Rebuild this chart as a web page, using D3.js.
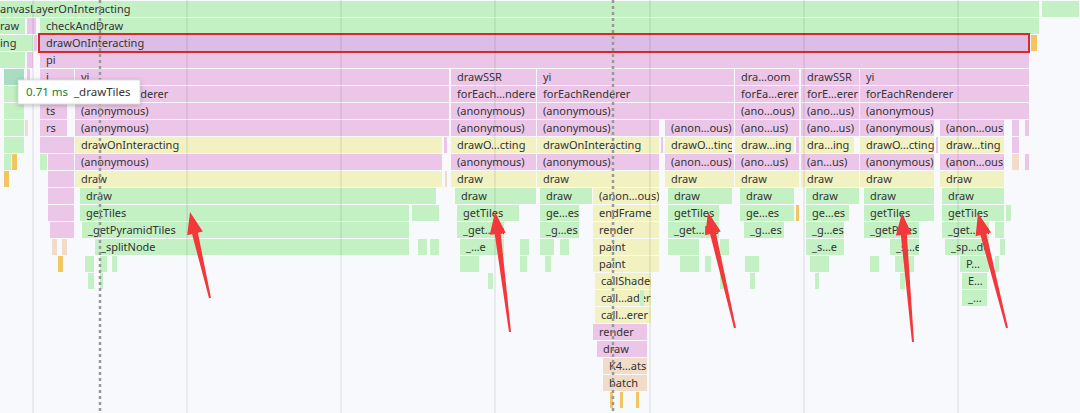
<!DOCTYPE html>
<html><head><meta charset="utf-8">
<script src="https://cdn.jsdelivr.net/npm/d3@7"></script>
<style>body{margin:0;background:#f7f9fc}svg{display:block}text{font-family:"Noto Sans",sans-serif;font-size:11px;fill:#333}</style>
</head><body><svg id="chart" width="1080" height="413"></svg>
<script>
// flame frames: depth, start, end, name, kind  (g green, p pink, y yellow, s selected, o orange, k peach, t teal)
var topFrames = [
  [0,-6,1040,"anvasLayerOnInteracting","g"],[0,1042,1080,"","g"],
  [1,-6,26,"raw","g"],[1,27,37,"","p"],[1,40,1040,"checkAndDraw","g"],
  [2,-6,34,"ing","g"],[2,34,38,"","p"],[2,40,1030,"drawOnInteracting","s"],[2,1031,1038,"","o"],
  [3,0,26,"","g"],[3,27,34,"","p"],[3,40,1030,"pi","p"],
  [4,4,25,"","t"],[4,27,31,"","p"],[4,40,75,"i","p"],[4,75,450,"yi","p"],[4,451,537,"drawSSR","p"],[4,537,735,"yi","p"],[4,735,800,"dra…oom","p"],[4,801,860,"drawSSR","p"],[4,860,1030,"yi","p"],
  [5,4,25,"","g"],[5,40,75,"","p"],[5,75,450,"forEachRenderer","p"],[5,451,537,"forEach…nderer","p"],[5,537,735,"forEachRenderer","p"],[5,735,800,"forEa…erer","p"],[5,801,860,"forE…erer","p"],[5,860,1030,"forEachRenderer","p"],
  [6,4,25,"","g"],[6,40,68,"ts","p"],[6,75,450,"(anonymous)","p"],[6,451,537,"(anonymous)","p"],[6,537,735,"(anonymous)","p"],[6,735,800,"(ano…ous)","p"],[6,801,860,"(ano…us)","p"],[6,860,1030,"(anonymous)","p"],
  [7,4,25,"","g"],[7,25,29,"","k"],[7,40,68,"rs","p"],[7,75,450,"(anonymous)","p"],[7,451,537,"(anonymous)","p"],[7,537,660,"(anonymous)","p"],[7,665,735,"(anon…ous)","p"],[7,735,800,"(ano…us)","p"],[7,801,860,"(ano…us)","p"],[7,860,935,"(anonymous)","p"],[7,940,1005,"(anon…ous)","p"],[7,1012,1020,"","p"],[7,1025,1030,"","p"],
  [8,4,25,"","g"],[8,40,75,"","p"],[8,75,443,"drawOnInteracting","y"],[8,444,448,"","p"],[8,451,537,"drawO…cting","y"],[8,537,660,"drawOnInteracting","y"],[8,661,664,"","p"],[8,665,733,"drawO…ting","y"],[8,735,795,"draw…ing","y"],[8,796,800,"","p"],[8,801,855,"dra…ing","y"],[8,860,935,"drawO…cting","y"],[8,936,939,"","p"],[8,940,1005,"draw…ting","y"],[8,1012,1020,"","p"],
  [9,4,12,"","g"],[9,12,18,"","o"],[9,40,48,"","g"],[9,48,75,"","p"],[9,75,443,"(anonymous)","p"],[9,451,537,"(anonymous)","p"],[9,537,660,"(anonymous)","p"],[9,665,735,"(anon…ous)","p"],[9,735,800,"(ano…us)","p"],[9,801,860,"(an…us)","p"],[9,860,935,"(anonymous)","p"],[9,940,1005,"(anon…ous)","p"],[9,1012,1020,"","k"],[9,1025,1030,"","p"],
  [10,4,10,"","o"],[10,48,75,"","p"],[10,75,443,"draw","y"],[10,445,448,"","k"],[10,451,537,"draw","y"],[10,537,660,"draw","y"],[10,665,735,"draw","y"],[10,735,800,"draw","y"],[10,801,860,"draw","y"],[10,860,935,"draw","y"],[10,940,1005,"draw","y"],
  [11,48,75,"","p"],[11,80,437,"draw","g"],[11,455,537,"draw","g"],[11,540,593,"draw","g"],[11,593,660,"(anon…ous)","y"],[11,668,733,"draw","g"],[11,740,795,"draw","g"],[11,806,860,"draw","g"],[11,864,935,"draw","g"],[11,942,1005,"draw","g"],
  [12,48,75,"","p"],[12,80,410,"getTiles","g"],[12,412,440,"","g"],[12,457,520,"getTiles","g"],[12,540,580,"ge…es","g"],[12,593,660,"endFrame","y"],[12,668,720,"getTiles","g"],[12,740,795,"ge…es","g"],[12,796,800,"","o"],[12,806,850,"ge…es","g"],[12,864,935,"getTiles","g"],[12,942,1005,"getTiles","g"],
  [13,50,75,"","p"],[13,82,410,"_getPyramidTiles","g"],[13,457,505,"_get…les","g"],[13,540,580,"_g…es","g"],[13,593,660,"render","y"],[13,668,720,"_get…les","g"],[13,744,785,"_g…es","g"],[13,806,845,"_g…es","g"],[13,864,920,"_getP…es","g"],[13,942,990,"_get…les","g"],
  [14,52,58,"","k"],[14,62,68,"","k"],[14,95,410,"_splitNode","g"],[14,460,505,"_…e","g"],[14,540,555,"","g"],[14,593,660,"paint","y"],[14,668,700,"","g"],[14,806,845,"_s…e","g"],[14,890,920,"_s…e","g"],[14,945,990,"_sp…de","g"],
  [15,58,64,"","o"],[15,85,95,"","g"],[15,460,480,"","g"],[15,593,660,"paint","y"],[15,680,700,"","g"],[15,960,990,"P…","g"],
  [16,88,95,"","g"],[16,595,652,"callShader","y"],[16,962,988,"E…","g"],
  [17,595,652,"call…ader","y"],[17,962,988,"_…","g"],
  [18,595,652,"call…erer","y"],
  [19,593,648,"render","p"],
  [20,597,648,"draw","p"],
  [21,603,648,"K4…ats","k"],
  [22,603,648,"batch","k"],
  [23,610,614,"","o"],[23,620,624,"","o"],[23,636,640,"","o"]
];
// thin slivers under the big stacks (depth, start, end)
var slivers = [
  [14,418,428],[14,430,440],[15,100,108],[15,112,118],[16,100,104],[14,520,530],[15,468,476],[16,488,494],[14,560,570],[15,545,552],
  [15,705,712],[16,720,726],[14,720,730],[15,745,760],[16,750,756],[15,810,830],[16,815,820],[15,870,880],[16,900,906],[15,895,915],
  [14,1000,1006],[15,995,1000],[17,640,645],[12,1006,1012],[13,995,1005],[15,520,528]
];
var gridTicks = [33,187,341,495,650,804,958];
var dottedTicks = [100,613];
var arrows = [[210,298,190,212],[510,332,495,212],[735,328,708,212],[913,342,902,213],[1007,328,978,213]];

var colors = {g:"#c3f1c3",p:"#ecc6e8",y:"#f1f1c1",s:"#dbbde6",o:"#f2c462",k:"#f0dcc8",t:"#a9dcc1"};
var svg = d3.select("#chart");
var x = d3.scaleLinear().domain([0,1080]).range([0,1080]);
var y = d3.scaleLinear().domain([0,24]).range([1,409]);
var rowH = 16;

var frames = topFrames.concat(slivers.map(s => [s[0], s[1], s[2], "", "g"]));
var g = svg.selectAll("g.f").data(frames).enter().append("g").attr("class","f")
  .attr("transform", d => "translate(" + x(d[1]) + "," + y(d[0]) + ")");
g.append("clipPath").attr("id", (d,i) => "c" + i)
  .append("rect").attr("width", d => Math.max(0, x(d[2]) - x(d[1]) - 1)).attr("height", rowH);
g.append("rect").attr("width", d => Math.max(0, x(d[2]) - x(d[1]) - 1)).attr("height", rowH)
  .attr("fill", d => colors[d[4]]);
g.append("text").attr("clip-path", (d,i) => "url(#c" + i + ")")
  .attr("x", d => d[1] < 0 ? 6 : 6).attr("y", 12).text(d => d[3]);

// selected frame border
var sel = topFrames.find(d => d[4] == "s");
svg.append("rect").attr("x", x(sel[1]) - 1).attr("y", y(sel[0]) - 1)
  .attr("width", x(sel[2]) - x(sel[1])).attr("height", rowH + 2)
  .attr("fill","none").attr("stroke","#d42a2a").attr("stroke-width",2);

svg.selectAll("line.grid").data(gridTicks).enter().append("line")
  .attr("x1", d => x(d)).attr("x2", d => x(d)).attr("y1",0).attr("y2",413)
  .attr("stroke","#000").attr("stroke-opacity",0.12);
svg.selectAll("line.dot").data(dottedTicks).enter().append("line")
  .attr("x1", d => x(d)).attr("x2", d => x(d)).attr("y1",0).attr("y2",413)
  .attr("stroke","#999").attr("stroke-width",2.5).attr("stroke-dasharray","3,3");

// tooltip
var tip = svg.append("g").attr("transform","translate(18,80)");
tip.append("rect").attr("width",122).attr("height",24).attr("fill","#fff")
  .attr("stroke","#ddd").style("filter","drop-shadow(0 1px 2px rgba(0,0,0,0.25))");
tip.append("text").attr("x",8).attr("y",16).style("font-size","11.5px").style("fill","#188038").text("0.71 ms");
tip.append("text").attr("x",56).attr("y",16).style("font-size","11.5px").text("_drawTiles");

// red arrows
arrows.forEach(a => {
  var ang = Math.atan2(a[3]-a[1], a[2]-a[0]);
  var ux = Math.cos(ang), uy = Math.sin(ang), px = -uy, py = ux;
  var hx = a[2] - ux*22, hy = a[3] - uy*22;
  svg.append("path").attr("fill","#f2383a").attr("d", d3.line()([
    [a[0]+px*1, a[1]+py*1],[hx+px*3, hy+py*3],[hx+px*8, hy+py*8],[a[2],a[3]],
    [hx-px*8, hy-py*8],[hx-px*3, hy-py*3],[a[0]-px*1, a[1]-py*1]
  ]) + "Z");
});
</script></body></html>
